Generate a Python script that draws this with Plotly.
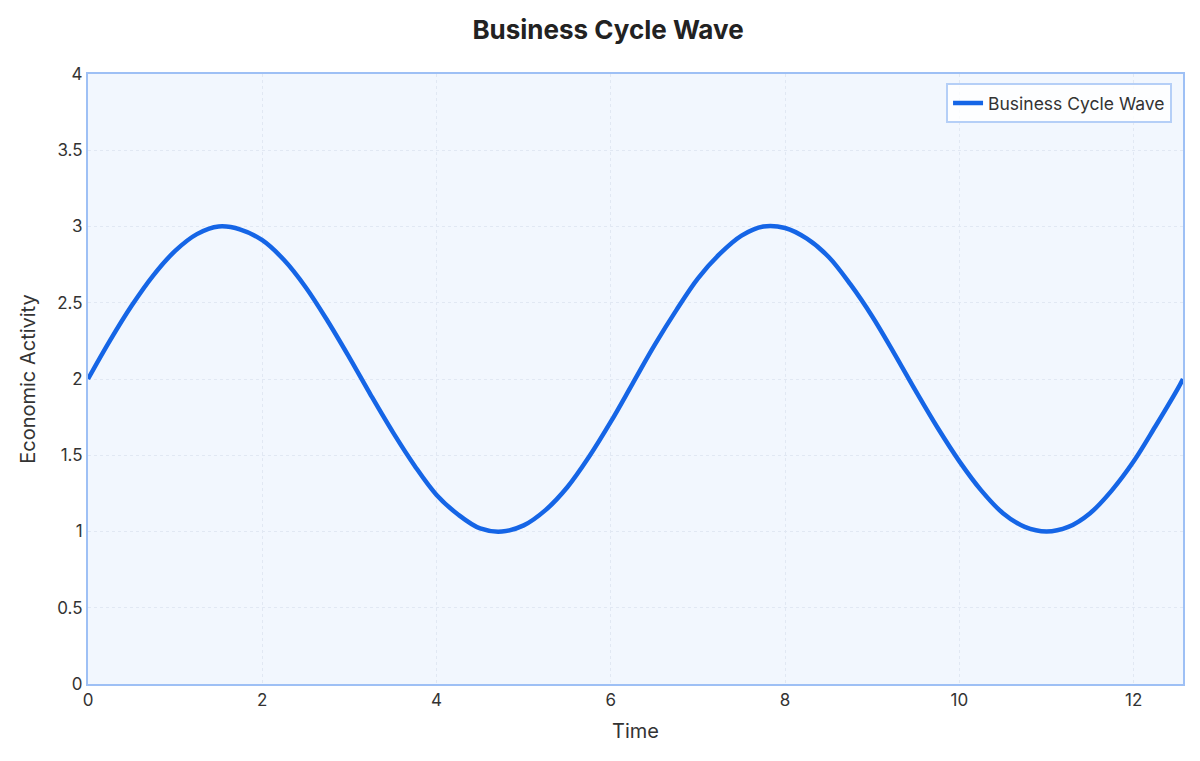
import plotly.graph_objects as go

# values
time = [0, 0.25, 0.5, 0.75, 1, 1.25, 1.5, 1.75, 2, 2.25, 2.5, 2.75, 3, 3.25, 3.5,
        3.75, 4, 4.25, 4.5, 4.75, 5, 5.25, 5.5, 5.75, 6, 6.25, 6.5, 6.75, 7, 7.25,
        7.5, 7.75, 8, 8.25, 8.5, 8.75, 9, 9.25, 9.5, 9.75, 10, 10.25, 10.5, 10.75,
        11, 11.25, 11.5, 11.75, 12, 12.25, 12.5, 12.566]
activity = [2.00, 2.25, 2.48, 2.68, 2.84, 2.95, 3.00, 2.98, 2.91, 2.78, 2.60, 2.38,
            2.14, 1.89, 1.65, 1.43, 1.24, 1.11, 1.02, 1.00, 1.04, 1.14, 1.29, 1.49,
            1.72, 1.97, 2.22, 2.45, 2.66, 2.82, 2.94, 3.00, 2.99, 2.92, 2.80, 2.62,
            2.41, 2.17, 1.92, 1.68, 1.46, 1.27, 1.12, 1.03, 1.00, 1.03, 1.12, 1.27,
            1.46, 1.69, 1.93, 2.00]
x_ticks = [0, 2, 4, 6, 8, 10, 12]
y_ticks = [0, 0.5, 1, 1.5, 2, 2.5, 3, 3.5, 4]

font = "Inter, Lato, sans-serif"

fig = go.Figure()
fig.add_trace(go.Scatter(
    x=time, y=activity, mode="lines", name="Business Cycle Wave",
    line=dict(color="#1565e6", width=4.5, shape="spline", smoothing=1.0),
))

# page has an 8px body margin, so margins are shifted to compensate
fig.update_layout(
    width=1200, height=761,
    margin=dict(l=80, r=25, t=66, b=85, autoexpand=False),
    paper_bgcolor="white",
    plot_bgcolor="#f2f7fe",
    font=dict(family=font, size=17, color="#333333"),
    title=dict(text="<b>Business Cycle Wave</b>", x=0.5, xanchor="center",
               y=0.971, yanchor="middle", font=dict(size=26, color="#222222")),
    showlegend=True,
    legend=dict(x=0.99, y=0.985, xanchor="right", yanchor="top",
                bgcolor="rgba(255,255,255,0.8)", bordercolor="#b5cff7",
                borderwidth=2, font=dict(size=17.5, color="#333333")),
)
axis_style = dict(showline=True, linecolor="#9ec0f5", linewidth=2, mirror=True,
                  showgrid=True, gridcolor="#e1e8f3", griddash="dot", gridwidth=1,
                  zeroline=False, ticks="", automargin=False,
                  title_font=dict(size=20, color="#333333"))
fig.update_xaxes(title_text="Time", range=[0, 12.566], tickvals=x_ticks,
                 title_standoff=15, **axis_style)
fig.update_yaxes(title_text="Economic Activity", range=[0, 4], tickvals=y_ticks,
                 title_standoff=16, **axis_style)

fig.write_html("out.html")
